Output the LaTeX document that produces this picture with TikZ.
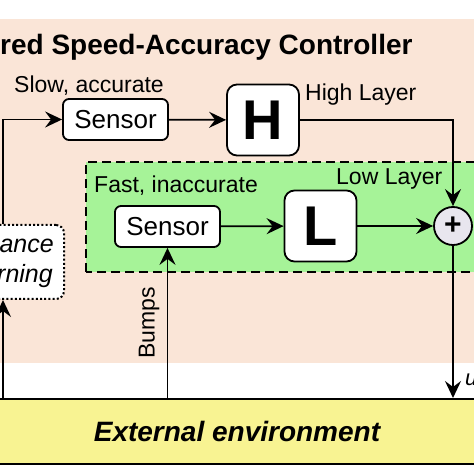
\documentclass[tikz,border=0pt]{standalone}
\usepackage{fontspec}
\setmainfont{Liberation Sans}
\usetikzlibrary{arrows.meta}
\definecolor{ctrlbg}{RGB}{250,229,215}
\definecolor{lowgreen}{RGB}{166,243,152}
\definecolor{envyellow}{RGB}{248,243,146}
\definecolor{sumgray}{RGB}{232,230,238}
\begin{document}
\begin{tikzpicture}[x=1pt,y=1pt,
  arr/.style={line width=1.7pt, -{Stealth[length=17pt,width=16pt,inset=6pt]}},
  sensorbox/.style={draw, line width=1.8pt, rounded corners=6pt, fill=white,
    minimum width=105pt, minimum height=41pt, inner sep=0pt,
    font=\fontsize{26}{30}\selectfont},
  layerbox/.style={draw, line width=1.8pt, rounded corners=10pt, fill=white,
    minimum width=72pt, minimum height=71pt, inner sep=0pt,
    font=\fontsize{56}{60}\selectfont\bfseries},
  lbl/.style={inner sep=0pt, font=\fontsize{23}{26}\selectfont}]
  \useasboundingbox (0,0) rectangle (474,474);
  \clip (0,0) rectangle (474,474);

  % Controller background
  \fill[ctrlbg] (0,111) rectangle (474,455);
  \node[anchor=base west, inner sep=0pt, font=\fontsize{28}{32}\selectfont\bfseries] (title) at (0,419) {red Speed-Accuracy Controller};

  % Low layer region
  \draw[line width=1.8pt, dash pattern=on 9pt off 5pt, fill=lowgreen] (86,202) rectangle (490,312);

  % External environment
  \node[draw, line width=2pt, fill=envyellow, minimum width=490pt, minimum height=65pt, inner sep=0pt,
    font=\fontsize{28}{32}\selectfont\bfseries\itshape] (env) at (237,42.5) {External environment};

  % High layer
  \node[lbl, anchor=base west] (slowlbl) at (14,381) {Slow, accurate};
  \node[sensorbox] (sensH) at (115.5,354.5) {Sensor};
  \node[layerbox] (H) at (263,354) {H};
  \node[lbl, anchor=base west] (highlbl) at (305,373) {High Layer};

  % Low layer
  \node[lbl, anchor=base west] (fastlbl) at (94,281) {Fast, inaccurate};
  \node[lbl, anchor=base west] (lowlbl) at (336,289) {Low Layer};
  \node[sensorbox] (sensL) at (167.5,247.5) {Sensor};
  \node[layerbox] (L) at (320.5,248) {L};
  \node[circle, draw, line width=1.8pt, fill=sumgray, minimum size=38pt, inner sep=0pt,
    font=\fontsize{30}{30}\selectfont\bfseries] (plus) at (453,248) {+};

  % Learning box
  \node[draw, line width=2pt, dash pattern=on 2pt off 2.2pt, rounded corners=8pt, fill=white,
    minimum width=140pt, minimum height=74pt, anchor=east] (learn) at (65,212) {};
  \node[lbl, font=\fontsize{25}{30}\selectfont\itshape, anchor=base east] (learna) at (54,221) {ance};
  \node[lbl, font=\fontsize{25}{30}\selectfont\itshape, anchor=base east] (learnb) at (53,191) {rning};

  % Connectors
  \coordinate (fb) at (3,75);
  \draw[arr] (fb) -- (fb |- learn.south);
  \draw[arr] (fb |- learn.north) |- (sensH.west);
  \draw[arr] (sensH) -- (H);
  \draw[arr] (H.east) -| (plus.north);
  \draw[arr] (sensL) -- (L);
  \draw[arr] (L) -- (plus);
  \draw[arr] (plus.south) -- (plus.south |- env.north);
  \draw[arr] (sensL.south |- env.north) -- (sensL.south);
  \node[lbl, rotate=90] (bumps) at (149,151) {Bumps};
  \node[anchor=base west, inner sep=0pt, font=\fontsize{22}{24}\selectfont\itshape] (ulbl) at (465,88) {u};
\end{tikzpicture}
\end{document}
